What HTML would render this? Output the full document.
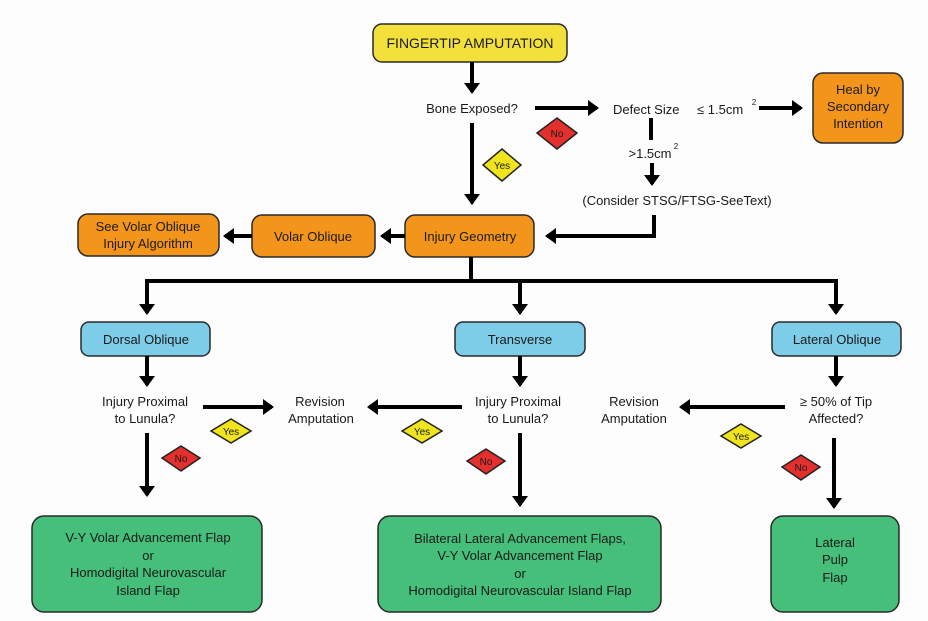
<!DOCTYPE html>
<html><head><meta charset="utf-8"><style>
html,body{margin:0;padding:0;background:#fdfdfd;}
svg{display:block;}
text{font-family:"Liberation Sans",Arial,sans-serif;font-size:13px;fill:#1a1a1a;text-anchor:middle;}
.b{stroke:#2a2a2a;stroke-width:1.5;}
.l{stroke:#000;stroke-width:4;fill:none;}
.d text{font-size:10px;}
</style></head><body>
<svg width="928" height="621" viewBox="0 0 928 621" xmlns="http://www.w3.org/2000/svg">
<defs>
<marker id="a" markerWidth="12" markerHeight="16" refX="9" refY="8" orient="auto" markerUnits="userSpaceOnUse">
<path d="M0,0 L11,8 L0,16 Z" fill="#000"/></marker>
</defs>
<rect width="928" height="621" fill="#fdfdfd"/>

<!-- top -->
<rect class="b" x="373" y="24" width="194" height="38" rx="9" fill="#f4e03a"/>
<text x="470" y="48" style="font-size:14px">FINGERTIP AMPUTATION</text>
<line class="l" x1="472" y1="62" x2="472" y2="92" marker-end="url(#a)"/>
<text x="472" y="113">Bone Exposed?</text>
<line class="l" x1="535" y1="108" x2="597" y2="108" marker-end="url(#a)"/>
<text x="613" y="114" style="text-anchor:start">Defect Size</text>
<text x="697" y="114" style="text-anchor:start">≤ 1.5cm</text>
<text x="754" y="105" style="font-size:8px">2</text>
<line class="l" x1="759" y1="108" x2="801" y2="108" marker-end="url(#a)"/>
<rect class="b" x="813" y="73" width="90" height="70" rx="10" fill="#f3951b"/>
<text x="858" y="94">Heal by</text><text x="858" y="111">Secondary</text><text x="858" y="128">Intention</text>

<line class="l" x1="651" y1="118" x2="651" y2="140"/>
<text x="650" y="158">&gt;1.5cm</text><text x="676" y="149" style="font-size:8px">2</text>
<line class="l" x1="652" y1="163" x2="652" y2="184" marker-end="url(#a)"/>
<text x="677" y="205">(Consider STSG/FTSG-SeeText)</text>
<path class="l" d="M654,215 V236 H547" marker-end="url(#a)"/>

<line class="l" x1="472" y1="123" x2="472" y2="203" marker-end="url(#a)"/>

<g class="d">
<polygon points="557,118 577,133 557,149 537,133" fill="#e3302c" stroke="#222" stroke-width="1.5"/>
<text x="557" y="137">No</text>
<polygon points="502,149 521,165 502,181 483,165" fill="#f0e51c" stroke="#222" stroke-width="1.5"/>
<text x="502" y="169">Yes</text>
</g>

<!-- orange row -->
<rect class="b" x="405" y="215" width="129" height="42" rx="10" fill="#f3951b"/>
<text x="470" y="241">Injury Geometry</text>
<rect class="b" x="252" y="215" width="123" height="42" rx="10" fill="#f3951b"/>
<text x="313" y="241">Volar Oblique</text>
<rect class="b" x="78" y="214" width="141" height="42" rx="10" fill="#f3951b"/>
<text x="148" y="231">See Volar Oblique</text><text x="148" y="248">Injury Algorithm</text>
<line class="l" x1="405" y1="236" x2="382" y2="236" marker-end="url(#a)"/>
<line class="l" x1="252" y1="236" x2="225" y2="236" marker-end="url(#a)"/>

<!-- trunk -->
<line class="l" x1="471" y1="257" x2="471" y2="281"/>
<line class="l" x1="145" y1="281" x2="838" y2="281"/>
<line class="l" x1="147" y1="279" x2="147" y2="313" marker-end="url(#a)"/>
<line class="l" x1="520" y1="279" x2="520" y2="313" marker-end="url(#a)"/>
<line class="l" x1="836" y1="279" x2="836" y2="313" marker-end="url(#a)"/>

<!-- blue -->
<rect class="b" x="81" y="322" width="129" height="34" rx="8" fill="#7dcde8"/>
<text x="146" y="344">Dorsal Oblique</text>
<rect class="b" x="455" y="322" width="130" height="34" rx="8" fill="#7dcde8"/>
<text x="520" y="344">Transverse</text>
<rect class="b" x="772" y="322" width="129" height="34" rx="8" fill="#7dcde8"/>
<text x="837" y="344">Lateral Oblique</text>
<line class="l" x1="147" y1="356" x2="147" y2="385" marker-end="url(#a)"/>
<line class="l" x1="520" y1="356" x2="520" y2="385" marker-end="url(#a)"/>
<line class="l" x1="836" y1="356" x2="836" y2="385" marker-end="url(#a)"/>

<!-- questions -->
<text x="145" y="406">Injury Proximal</text><text x="145" y="423">to Lunula?</text>
<text x="518" y="406">Injury Proximal</text><text x="518" y="423">to Lunula?</text>
<text x="836" y="406">≥ 50% of Tip</text><text x="836" y="423">Affected?</text>
<text x="320" y="406">Revision</text><text x="321" y="423">Amputation</text>
<text x="634" y="406">Revision</text><text x="634" y="423">Amputation</text>
<line class="l" x1="203" y1="407" x2="272" y2="407" marker-end="url(#a)"/>
<line class="l" x1="462" y1="407" x2="369" y2="407" marker-end="url(#a)"/>
<line class="l" x1="785" y1="407" x2="681" y2="407" marker-end="url(#a)"/>

<line class="l" x1="147" y1="433" x2="147" y2="495" marker-end="url(#a)"/>
<line class="l" x1="520" y1="433" x2="520" y2="505" marker-end="url(#a)"/>
<line class="l" x1="834" y1="438" x2="834" y2="507" marker-end="url(#a)"/>

<g class="d">
<polygon points="231,419 251,431 231,443 211,431" fill="#f0e51c" stroke="#222" stroke-width="1.5"/><text x="231" y="435">Yes</text>
<polygon points="422,419 442,431 422,443 402,431" fill="#f0e51c" stroke="#222" stroke-width="1.5"/><text x="422" y="435">Yes</text>
<polygon points="741,424 761,436 741,448 721,436" fill="#f0e51c" stroke="#222" stroke-width="1.5"/><text x="741" y="440">Yes</text>
<polygon points="181,446 200,458 181,471 162,458" fill="#e3302c" stroke="#222" stroke-width="1.5"/><text x="181" y="462">No</text>
<polygon points="486,449 505,461 486,474 467,461" fill="#e3302c" stroke="#222" stroke-width="1.5"/><text x="486" y="465">No</text>
<polygon points="801,455 820,467 801,480 782,467" fill="#e3302c" stroke="#222" stroke-width="1.5"/><text x="801" y="471">No</text>
</g>

<!-- green -->
<rect class="b" x="32" y="516" width="230" height="96" rx="12" fill="#45bf7a"/>
<text x="148" y="542">V-Y Volar Advancement Flap</text><text x="148" y="560">or</text>
<text x="148" y="577">Homodigital Neurovascular</text><text x="148" y="595">Island Flap</text>
<rect class="b" x="378" y="516" width="283" height="96" rx="12" fill="#45bf7a"/>
<text x="520" y="543">Bilateral Lateral Advancement Flaps,</text><text x="520" y="560">V-Y Volar Advancement Flap</text>
<text x="520" y="578">or</text><text x="520" y="595">Homodigital Neurovascular Island Flap</text>
<rect class="b" x="771" y="516" width="128" height="96" rx="12" fill="#45bf7a"/>
<text x="835" y="547">Lateral</text><text x="835" y="564">Pulp</text><text x="835" y="582">Flap</text>
</svg>
</body></html>
